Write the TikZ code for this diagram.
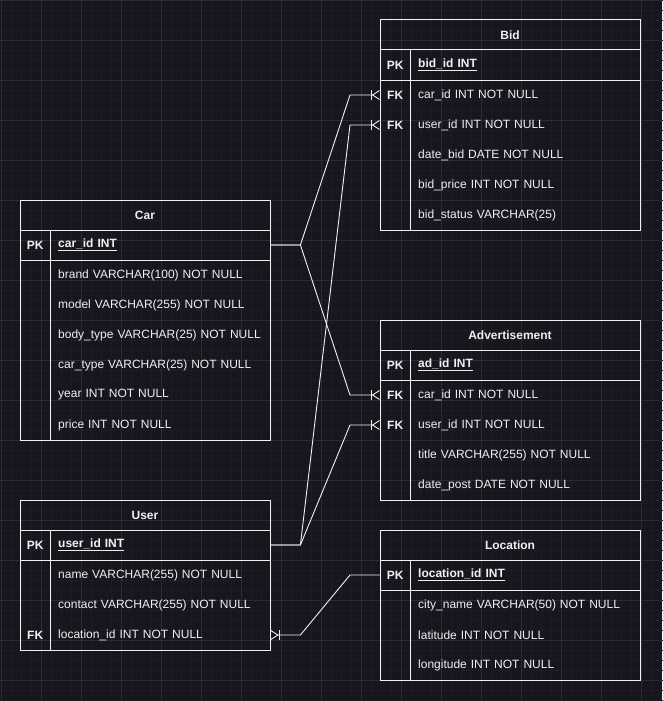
\documentclass[tikz,border=0pt]{standalone}
\usepackage{fontspec}
\setmainfont{Liberation Sans}
\usetikzlibrary{arrows.meta}
\definecolor{bgc}{RGB}{25,21,30}
\definecolor{gridminor}{RGB}{31,27,37}
\definecolor{gridmajor}{RGB}{46,42,52}
\definecolor{fg}{RGB}{240,240,240}
\definecolor{lnc}{RGB}{240,240,240}
\begin{document}
\begin{tikzpicture}[x=1pt,y=-1pt,
  every node/.style={text=fg,font=\fontsize{12}{14}\selectfont},
  ln/.style={draw=lnc,line width=1pt},
  rel/.style={draw=lnc,line width=0.9pt},
  crow/.style={-{Bar[width=10pt,sep=0pt]Straight Barb[reversed,length=7pt,width=9pt]}},
  head/.style={font=\fontsize{12}{14}\selectfont\bfseries},
  keyc/.style={anchor=west,minimum width=30pt,minimum height=30pt,inner sep=0pt,
    font=\fontsize{12}{14}\selectfont\bfseries},
  fld/.style={anchor=west,minimum height=30pt,inner ysep=0pt,inner xsep=8pt,
    text width=#1,align=left},
  pkfld/.style={fld=#1,font=\fontsize{12}{14}\selectfont\bfseries}]
  \useasboundingbox (0,0) rectangle (662,701);
  \fill[bgc] (0,0) rectangle (662,701);
  \begin{scope}[xshift=1pt]
    \draw[gridminor,line width=0.5pt,step=10pt] (-1,0) grid (662,701);
    \draw[gridmajor,line width=0.6pt,step=40pt] (-1,0) grid (662,701);
  \end{scope}

  % Bid
  \draw[ln] (380,20) rectangle (640,230) (380,50) -- (640,50) (380,80) -- (640,80)
    (410,50) -- (410,230);
  \node[head] (bidhd) at (510,35) {Bid};
  \node[keyc] (bidpkk) at (380,65) {PK};
  \node[pkfld=214pt] (bidid) at (410,65) {\underline{bid\_id INT}};
  \node[keyc] (bidfk1) at (380,95) {FK};
  \node[fld=214pt] (bidcar) at (410,95) {car\_id INT NOT NULL};
  \node[keyc] (bidfk2) at (380,125) {FK};
  \node[fld=214pt] (biduser) at (410,125) {user\_id INT NOT NULL};
  \node[fld=214pt] (biddate) at (410,155) {date\_bid DATE NOT NULL};
  \node[fld=214pt] (bidprice) at (410,185) {bid\_price INT NOT NULL};
  \node[fld=214pt] (bidstatus) at (410,215) {bid\_status VARCHAR(25)};

  % Car
  \draw[ln] (20,200) rectangle (270,440) (20,230) -- (270,230) (20,260) -- (270,260)
    (50,230) -- (50,440);
  \node[head] (carhd) at (145,215) {Car};
  \node[keyc] (carpkk) at (20,245) {PK};
  \node[pkfld=204pt] (carid) at (50,245) {\underline{car\_id INT}};
  \node[fld=204pt] (carbrand) at (50,275) {brand VARCHAR(100) NOT NULL};
  \node[fld=204pt] (carmodel) at (50,305) {model VARCHAR(255) NOT NULL};
  \node[fld=204pt] (carbody) at (50,335) {body\_type VARCHAR(25) NOT NULL};
  \node[fld=204pt] (cartype) at (50,365) {car\_type VARCHAR(25) NOT NULL};
  \node[fld=204pt] (caryear) at (50,395) {year INT NOT NULL};
  \node[fld=204pt] (carprice) at (50,425) {price INT NOT NULL};

  % Advertisement
  \draw[ln] (380,320) rectangle (640,500) (380,350) -- (640,350) (380,380) -- (640,380)
    (410,350) -- (410,500);
  \node[head] (adhd) at (510,335) {Advertisement};
  \node[keyc] (adpkk) at (380,365) {PK};
  \node[pkfld=214pt] (adid) at (410,365) {\underline{ad\_id INT}};
  \node[keyc] (adfk1) at (380,395) {FK};
  \node[fld=214pt] (adcar) at (410,395) {car\_id INT NOT NULL};
  \node[keyc] (adfk2) at (380,425) {FK};
  \node[fld=214pt] (aduser) at (410,425) {user\_id INT NOT NULL};
  \node[fld=214pt] (adtitle) at (410,455) {title VARCHAR(255) NOT NULL};
  \node[fld=214pt] (addate) at (410,485) {date\_post DATE NOT NULL};

  % User
  \draw[ln] (20,500) rectangle (270,650) (20,530) -- (270,530) (20,560) -- (270,560)
    (50,530) -- (50,650);
  \node[head] (userhd) at (145,515) {User};
  \node[keyc] (userpkk) at (20,545) {PK};
  \node[pkfld=204pt] (userid) at (50,545) {\underline{user\_id INT}};
  \node[fld=204pt] (username) at (50,575) {name VARCHAR(255) NOT NULL};
  \node[fld=204pt] (usercontact) at (50,605) {contact VARCHAR(255) NOT NULL};
  \node[keyc] (userfk) at (20,635) {FK};
  \node[fld=204pt] (userloc) at (50,635) {location\_id INT NOT NULL};

  % Location
  \draw[ln] (380,530) rectangle (640,680) (380,560) -- (640,560) (380,590) -- (640,590)
    (410,560) -- (410,680);
  \node[head] (lochd) at (510,545) {Location};
  \node[keyc] (locpkk) at (380,575) {PK};
  \node[pkfld=214pt] (locid) at (410,575) {\underline{location\_id INT}};
  \node[fld=214pt] (loccity) at (410,605) {city\_name VARCHAR(50) NOT NULL};
  \node[fld=214pt] (loclat) at (410,635) {latitude INT NOT NULL};
  \node[fld=214pt] (loclong) at (410,665) {longitude INT NOT NULL};

  % relations
  \draw[rel,crow] (carid.east) -- ++(30,0) -- ([xshift=-30pt]bidfk1.west) -- (bidfk1.west);
  \draw[rel,crow] (carid.east) -- ++(30,0) -- ([xshift=-30pt]adfk1.west) -- (adfk1.west);
  \draw[rel,crow] (userid.east) -- ++(30,0) -- ([xshift=-30pt]bidfk2.west) -- (bidfk2.west);
  \draw[rel,crow] (userid.east) -- ++(30,0) -- ([xshift=-30pt]adfk2.west) -- (adfk2.west);
  \draw[rel,crow] (locpkk.west) -- ++(-30,0) -- ([xshift=30pt]userloc.east) -- (userloc.east);
\end{tikzpicture}
\end{document}
